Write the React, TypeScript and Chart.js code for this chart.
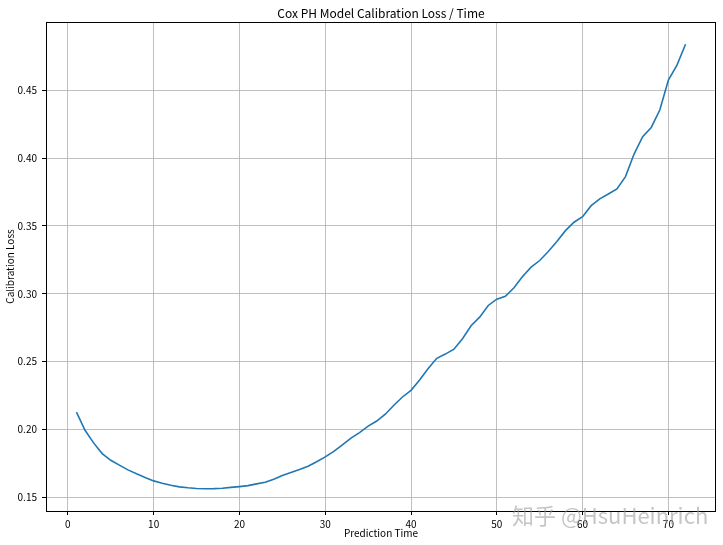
import React, { useEffect, useRef } from "react";
import { Chart, registerables } from "chart.js";

Chart.register(...registerables);

const predictionTimes = [
  1, 2, 3, 4, 5, 6, 7, 8, 9, 10, 11, 12, 13, 14, 15, 16, 17, 18, 19, 20, 21, 22, 23, 24,
  25, 26, 27, 28, 29, 30, 31, 32, 33, 34, 35, 36, 37, 38, 39, 40, 41, 42, 43, 44, 45, 46, 47, 48,
  49, 50, 51, 52, 53, 54, 55, 56, 57, 58, 59, 60, 61, 62, 63, 64, 65, 66, 67, 68, 69, 70, 71, 72,
];

const calibrationLoss = [
  0.2129, 0.1995, 0.1902, 0.1823, 0.1774, 0.1738, 0.1703, 0.1674, 0.1647, 0.1622, 0.1605, 0.159,
  0.1578, 0.1571, 0.1566, 0.1564, 0.1565, 0.1568, 0.1574, 0.158, 0.1587, 0.16, 0.1612, 0.1635,
  0.1662, 0.1684, 0.1706, 0.173, 0.1763, 0.1799, 0.184, 0.1887, 0.1937, 0.1978, 0.2025, 0.2063,
  0.2113, 0.2179, 0.224, 0.2289, 0.2365, 0.245, 0.2525, 0.2556, 0.2592, 0.2669, 0.2765, 0.2828,
  0.2914, 0.296, 0.2982, 0.3044, 0.3127, 0.3196, 0.3245, 0.3311, 0.3385, 0.3465, 0.3527, 0.3568,
  0.3649, 0.3699, 0.3735, 0.3772, 0.3863, 0.4029, 0.4157, 0.4225, 0.4353, 0.4574, 0.4684, 0.4838,
];

const xTicks = [0, 10, 20, 30, 40, 50, 60, 70];
const yTicks = [0.15, 0.2, 0.25, 0.3, 0.35, 0.4, 0.45];

const chartTitle = "Cox PH Model Calibration Loss / Time";
const xTitle = "Prediction Time";
const yTitle = "Calibration Loss";
const watermark = "知乎 @HsuHeinrich";

const FONT = "'Noto Sans CJK SC', 'Noto Sans', sans-serif";

function withMargin(values: number[]) {
  const lo = Math.min(...values);
  const hi = Math.max(...values);
  const m = (hi - lo) * 0.05;
  return { min: lo - m, max: hi + m };
}

export default function App() {
  const canvasRef = useRef<HTMLCanvasElement | null>(null);

  useEffect(() => {
    if (!canvasRef.current) return;
    const xr = withMargin(predictionTimes);
    const yr = withMargin(calibrationLoss);

    const framePlugin = {
      id: "frameAndTitle",
      afterDraw(chart: any) {
        const { ctx, chartArea } = chart;
        const { left, right, top, bottom } = chartArea;
        ctx.save();
        ctx.strokeStyle = "#000000";
        ctx.lineWidth = 1;
        ctx.strokeRect(Math.round(left) + 0.5, Math.round(top) + 0.5, Math.round(right - left) - 1, Math.round(bottom - top));
        ctx.fillStyle = "#000000";
        ctx.font = `12px ${FONT}`;
        ctx.textAlign = "center";
        ctx.textBaseline = "middle";
        ctx.fillText(chartTitle, (left + right) / 2, 13);
        ctx.font = `22px ${FONT}`;
        ctx.textAlign = "left";
        ctx.fillStyle = "rgba(150,150,150,0.55)";
        ctx.fillText(watermark, 512, 516);
        ctx.restore();
      },
    };

    const chart = new Chart(canvasRef.current, {
      type: "line",
      data: {
        datasets: [
          {
            data: predictionTimes.map((t, i) => ({ x: t, y: calibrationLoss[i] })),
            borderColor: "#1f77b4",
            borderWidth: 1.6,
            pointRadius: 0,
            tension: 0,
            fill: false,
          },
        ],
      },
      options: {
        animation: false,
        responsive: true,
        maintainAspectRatio: false,
        layout: { padding: { top: 22, right: 7, left: 0, bottom: 0 } },
        plugins: {
          legend: { display: false },
          title: { display: false },
          tooltip: { enabled: false },
        },
        scales: {
          x: {
            type: "linear",
            min: xr.min,
            max: xr.max,
            afterBuildTicks: (s: any) => {
              s.ticks = xTicks.map((v) => ({ value: v }));
            },
            afterFit: (s: any) => {
              s.height = 34;
            },
            grid: {
              color: "#b0b0b0",
              lineWidth: 0.8,
              tickColor: "#000000",
              tickLength: 4,
              tickWidth: 1,
            },
            border: { display: false },
            ticks: {
              color: "#000000",
              font: { family: FONT, size: 10 },
              padding: 3,
              maxRotation: 0,
              callback: (v: any) => String(v),
            },
            title: {
              display: true,
              text: xTitle,
              color: "#000000",
              font: { family: FONT, size: 10 },
              padding: { top: 0, bottom: 6 },
            },
          },
          y: {
            type: "linear",
            min: yr.min,
            max: yr.max,
            afterBuildTicks: (s: any) => {
              s.ticks = yTicks.map((v) => ({ value: v }));
            },
            afterFit: (s: any) => {
              s.width = 46;
            },
            grid: {
              color: "#b0b0b0",
              lineWidth: 0.8,
              tickColor: "#000000",
              tickLength: 4,
              tickWidth: 1,
            },
            border: { display: false },
            ticks: {
              color: "#000000",
              font: { family: FONT, size: 10 },
              padding: 5,
              callback: (v: any) => Number(v).toFixed(2),
            },
            title: {
              display: true,
              text: yTitle,
              color: "#000000",
              font: { family: FONT, size: 10 },
              padding: { top: 4, bottom: 0 },
            },
          },
        },
      },
      plugins: [framePlugin],
    });

    return () => chart.destroy();
  }, []);

  return (
    <div style={{ position: "absolute", left: 0, top: 0, width: 723, height: 545, background: "#ffffff" }}>
      <canvas ref={canvasRef} />
    </div>
  );
}
